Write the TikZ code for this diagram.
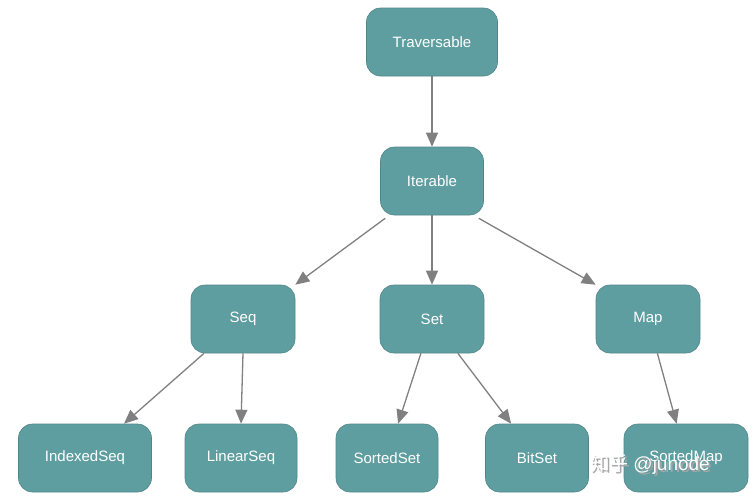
\documentclass[tikz,border=0pt]{standalone}
\usepackage{fontspec}
\setmainfont{Liberation Sans}
\newfontfamily\cjk{Noto Sans CJK SC}
\usetikzlibrary{arrows.meta}
\definecolor{teal1}{HTML}{5F9EA0}
\tikzset{
  box/.style={draw=teal1!85!black, line width=0.6pt, fill=teal1, text=white, rounded corners=14pt, minimum height=68pt, align=center, font=\fontsize{15}{17}\selectfont},
  edge/.style={draw=gray, line width=1.3pt, -{Triangle[length=14pt,width=12pt]}},
  wmark/.style={font=\fontsize{19}{21}\selectfont, inner sep=0pt, anchor=west}
}
\begin{document}
\begin{tikzpicture}[x=1pt,y=-1pt]
\useasboundingbox (0,0) rectangle (756,501);
\node[box,minimum width=131pt] (trav) at (432,42) {Traversable};
\node[box,minimum width=103pt] (iter) at (432,181) {Iterable};
\node[box,minimum width=104pt] (seq) at (243,319) {Seq};
\node[box,minimum width=104pt] (set) at (432,319) {Set};
\node[box,minimum width=104pt] (map) at (648,319) {Map};
\node[box,minimum width=133pt] (iseq) at (85,458) {IndexedSeq};
\node[box,minimum width=112pt] (lseq) at (241,458) {LinearSeq};
\node[box,minimum width=102pt] (sset) at (387,458) {SortedSet};
\node[box,minimum width=103pt] (bset) at (537,458) {BitSet};
\node[box,minimum width=124pt] (smap) at (686,458) {SortedMap};
\draw[edge] (trav) -- (iter);
\draw[edge] (iter.south west) ++(5,3) -- (seq.north east);
\draw[edge] (iter) -- (set);
\draw[edge] (iter.south east) ++(-5,3) -- (map.north west);
\draw[edge] (seq) -- (iseq);
\draw[edge] (seq.south) -- (lseq.north);
\draw[edge] (set) -- (sset);
\draw[edge] (set) -- (bset);
\draw[edge] (map) -- (smap);
\node[wmark, text=gray!70] (wms) at (592,466) {{\cjk 知乎} @junode};
\node[wmark, text=white] (wm) at (590,464) {{\cjk 知乎} @junode};
\end{tikzpicture}
\end{document}
